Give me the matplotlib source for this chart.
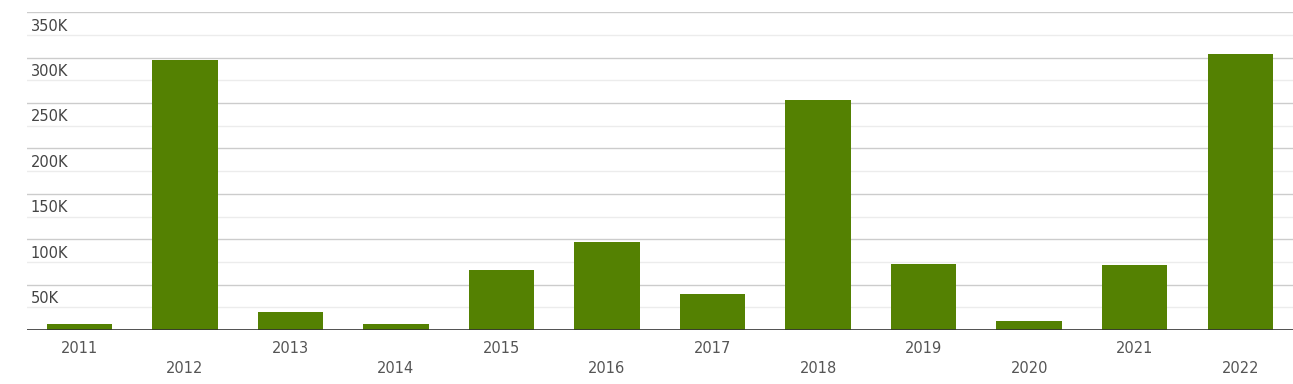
import matplotlib.pyplot as plt
import numpy as np

years = [2011, 2012, 2013, 2014, 2015, 2016, 2017, 2018, 2019, 2020, 2021, 2022]
values = [6900, 297500, 19800, 6900, 66000, 97000, 39700, 253000, 72700, 9900, 71600, 304000]
ytick_vals = [50000, 100000, 150000, 200000, 250000, 300000, 350000]
ytick_labels = ["50K", "100K", "150K", "200K", "250K", "300K", "350K"]

fig = plt.figure(figsize=(12.93, 3.84), dpi=100)
ax = fig.add_axes([0.0205, 0.1406, 0.9795, 0.8274])

x = np.arange(len(years))
ax.bar(x, values, width=0.62, color="#548102", zorder=3)

ax.set_xlim(-0.5, len(years) - 0.5)
ax.set_ylim(0, 350000)

# grid lines
for v in np.arange(25000, 350001, 25000):
    major = v % 50000 == 0
    ax.axhline(v, color="#cccccc" if major else "#ececec", lw=1, zorder=1)
ax.axhline(0, color="#333333", lw=1.2, zorder=4)

# y labels inside the axes, under each gridline
for v, lab in zip(ytick_vals, ytick_labels):
    ax.annotate(lab, xy=(0, v), xycoords=ax.get_yaxis_transform(),
                xytext=(3, -10), textcoords="offset points",
                ha="left", va="center", fontsize=10.5, color="#444444")

# alternating x labels
for i, yr in enumerate(years):
    off = -13 if i % 2 == 0 else -27.5
    ax.annotate(str(yr), xy=(i, 0), xytext=(0, off), textcoords="offset points",
                ha="center", va="center", fontsize=10.5, color="#555555")

ax.set_xticks([])
ax.set_yticks([])
for s in ax.spines.values():
    s.set_visible(False)

plt.savefig("out.png", dpi=100)
